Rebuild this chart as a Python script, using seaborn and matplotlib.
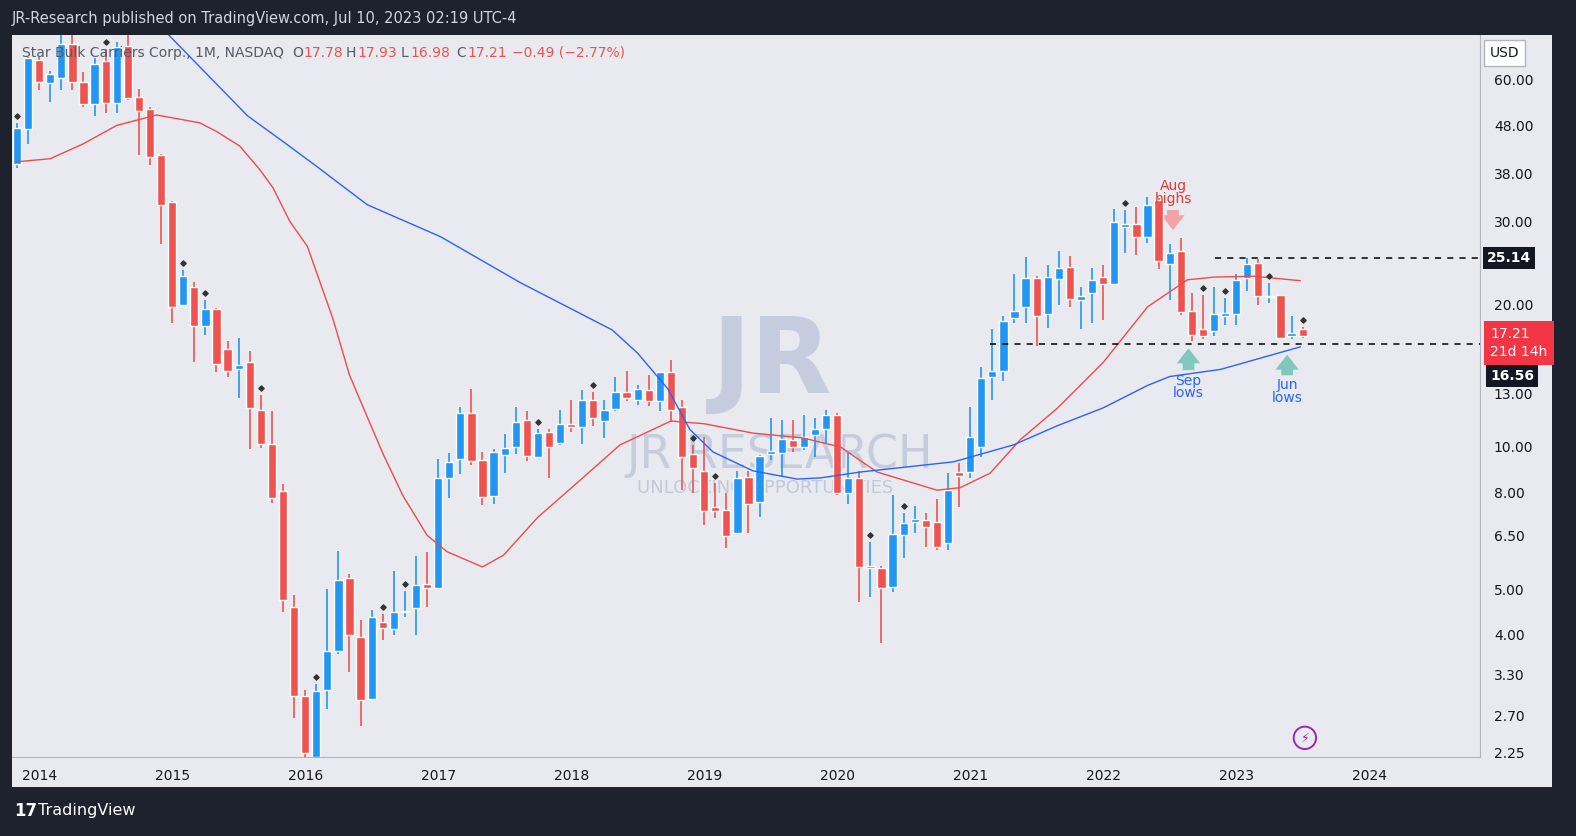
import numpy as np
import pandas as pd
import seaborn as sns
import matplotlib.pyplot as plt
from matplotlib.ticker import NullLocator, FixedLocator
import matplotlib.transforms as mtransforms

# monthly candles Nov 2013 .. Jul 2023 (split adjusted)
opens = [39.8, 47.2, 65.9, 59.0, 60.6, 71.4, 59.3, 53.2, 65.6, 53.5, 70.6, 55.0, 51.9, 41.6, 33.1,
         20.0, 21.8, 18.0, 19.6, 16.1, 14.6, 15.1, 12.0, 10.15, 8.07, 4.58, 2.97, 2.2, 3.06, 3.69,
         5.28, 3.95, 2.93, 4.26, 4.12, 4.47, 4.56, 5.12, 5.03, 8.6, 9.43, 11.8, 9.37, 7.87, 9.63,
         10.0, 11.4, 9.54, 10.76, 10.2, 11.2, 11.0, 12.6, 11.37, 12.05, 13.07, 12.6, 13.2, 12.5, 14.4,
         12.15, 9.66, 8.9, 7.46, 7.35, 6.58, 8.65, 7.65, 9.66, 9.73, 10.35, 10.0, 10.6, 10.9, 11.7,
         8.0, 8.6, 5.55, 5.55, 5.05, 6.52, 6.95, 7.0, 6.95, 6.25, 8.86, 8.86, 10.0, 14.1, 14.5,
         18.8, 19.8, 22.8, 19.1, 22.7, 24.1, 20.5, 21.2, 22.9, 22.1, 29.2, 29.7, 27.8, 33.3, 24.4,
         26.0, 19.4, 17.8, 17.6, 18.9, 19.1, 22.8, 24.5, 20.8, 21.0, 17.2, 17.78]
highs = [48.6, 67.0, 67.0, 62.5, 76.0, 75.0, 62.3, 66.8, 69.8, 72.2, 76.0, 57.2, 52.4, 41.8, 33.2,
         23.7, 22.4, 20.5, 19.7, 16.8, 17.0, 16.0, 12.9, 11.9, 8.35, 4.85, 3.05, 3.15, 5.01, 6.02,
         5.38, 4.3, 4.52, 4.43, 5.46, 4.95, 5.88, 6.0, 9.45, 9.7, 12.15, 13.3, 9.77, 9.9, 10.65,
         12.15, 11.9, 10.9, 10.9, 12.0, 12.6, 13.2, 13.1, 12.6, 14.1, 14.5, 13.5, 14.2, 14.4, 15.3,
         12.6, 10.1, 10.5, 8.4, 8.0, 8.9, 8.9, 9.6, 11.5, 11.4, 11.4, 11.7, 11.5, 12.0, 11.8,
         9.72, 8.9, 6.3, 5.6, 7.9, 7.25, 7.5, 7.25, 7.76, 8.8, 9.25, 12.15, 14.8, 17.8, 18.9,
         23.2, 25.2, 23.0, 24.3, 26.0, 25.4, 21.8, 23.9, 24.3, 31.9, 31.8, 32.3, 33.8, 33.7, 26.9,
         27.7, 21.2, 21.0, 21.8, 20.65, 23.3, 25.1, 25.0, 22.3, 21.0, 18.95, 17.93]
lows = [39.0, 43.8, 57.0, 53.9, 57.0, 57.0, 52.6, 50.3, 51.0, 51.0, 54.3, 41.5, 39.5, 26.9, 18.3,
        19.9, 15.1, 17.3, 14.4, 14.1, 12.7, 9.9, 9.95, 7.6, 4.47, 2.67, 2.0, 2.0, 2.78, 3.64,
        3.33, 2.56, 2.91, 3.9, 4.0, 4.37, 4.0, 4.58, 5.0, 7.8, 8.77, 9.16, 7.54, 7.58, 8.8,
        9.66, 9.35, 9.49, 8.6, 10.1, 10.76, 10.15, 11.1, 10.45, 11.9, 12.5, 12.3, 12.2, 11.9, 11.3,
        8.1, 8.0, 6.84, 7.08, 6.1, 6.54, 6.57, 7.1, 9.4, 8.65, 9.77, 9.85, 9.5, 10.2, 7.9,
        7.57, 4.7, 4.82, 3.84, 4.93, 5.82, 6.57, 6.15, 6.05, 6.05, 7.47, 8.6, 9.5, 12.6, 13.8,
        18.3, 18.3, 16.4, 17.9, 20.0, 19.8, 17.8, 18.3, 18.6, 22.0, 25.7, 25.5, 27.0, 23.8, 20.5,
        19.0, 16.8, 16.9, 17.2, 18.1, 18.1, 21.4, 20.0, 20.2, 17.0, 16.9, 16.98]
closes = [47.4, 66.7, 59.2, 61.6, 71.4, 59.2, 53.2, 64.8, 53.5, 70.3, 54.8, 51.4, 41.2, 32.6, 19.8,
          23.0, 18.0, 19.6, 15.0, 14.5, 14.9, 12.1, 10.15, 7.8, 4.74, 2.97, 2.25, 3.04, 3.69, 5.23,
          4.0, 2.91, 4.37, 4.14, 4.47, 4.50, 5.1, 5.03, 8.6, 9.3, 11.8, 9.35, 7.85, 9.76, 9.95,
          11.3, 9.58, 10.7, 10.0, 11.2, 11.0, 12.6, 11.5, 12.0, 13.1, 12.7, 13.3, 12.5, 14.4, 12.0,
          9.5, 9.04, 7.3, 7.3, 6.48, 8.6, 7.57, 9.56, 9.8, 10.4, 10.0, 10.5, 10.9, 11.7, 8.0,
          8.6, 5.58, 5.6, 5.03, 6.54, 6.9, 7.05, 6.77, 6.15, 8.1, 8.68, 10.5, 14.0, 14.5, 18.5,
          19.4, 22.8, 18.9, 22.9, 23.9, 20.6, 20.9, 22.6, 22.1, 30.0, 29.6, 27.9, 32.6, 24.8, 25.8,
          19.3, 17.3, 17.2, 19.1, 19.2, 22.6, 24.4, 20.9, 20.9, 17.0, 17.4, 17.21]
dividend_bars = [0, 8, 15, 17, 22, 27, 33, 35, 47, 52, 61, 63, 77, 80, 100, 107, 109, 113, 116]

# moving averages (bar index, value)
red_ma_x = [0, 3, 6, 9, 12.6, 16.5, 18, 20.1, 21.9, 23.1, 24.6, 26.2, 28.5, 30, 31, 33, 34.8, 37,
            38.8, 42, 43.9, 47, 50.8, 54.4, 59, 62, 66.4, 70.9, 74.3, 77.6, 83, 85.1, 87.8, 90.5,
            93.9, 98, 102, 105.6, 108, 111.6, 115.8]
red_ma_y = [40.2, 40.8, 43.9, 48, 50.5, 48.6, 46.6, 43.4, 38.7, 35.4, 30.1, 26.6, 18.7, 14.2, 12.5,
            9.7, 7.9, 6.5, 6.0, 5.57, 5.9, 7.1, 8.5, 10.1, 11.35, 11.2, 10.7, 10.45, 10.0, 8.85,
            8.1, 8.2, 8.8, 10.35, 12.1, 15.1, 19.8, 22.6, 22.9, 23.0, 22.5]
blue_ma_x = [13.4, 20.8, 24.1, 27.1, 31.6, 38.2, 45.4, 53.7, 56, 58.7, 60.7, 62.8, 66.4, 70.4,
             72.5, 76.1, 84.5, 89.9, 93.9, 98, 102, 104, 108.6, 115.8]
blue_ma_y = [75.8, 50.3, 44.2, 39.2, 32.6, 27.9, 22.3, 17.7, 15.8, 13.3, 10.9, 9.76, 8.9, 8.55,
             8.6, 8.85, 9.3, 10.1, 11.1, 12.1, 13.5, 14.1, 14.6, 16.3]

price_ticks = [2.25, 2.70, 3.30, 4.00, 5.00, 6.50, 8.00, 10.00, 13.00, 20.00, 30.00, 38.00, 48.00,
               60.00]
year_labels = ["2014", "2015", "2016", "2017", "2018", "2019", "2020", "2021", "2022", "2023", "2024"]
resistance = 25.14
support = 16.56
last_close = 17.21

W, H = 1576, 836
BG = "#1e222d"
PANEL = "#e9eaef"
UP = "#2196f3"
DOWN = "#ef5350"

df = pd.DataFrame({"date": pd.date_range("2013-11-01", periods=len(closes), freq="MS"),
                   "open": opens, "high": highs, "low": lows, "close": closes})
df["x"] = np.arange(len(df))
df["up"] = df["close"] >= df["open"]

sns.set_style("white")
plt.rcParams["font.family"] = ["DejaVu Sans"]

fig = plt.figure(figsize=(W / 100, H / 100), dpi=100, facecolor=BG)


def px(x, y):
    return x / W, 1 - y / H


# light panel behind chart + price scale + time scale
bg = fig.add_axes([12 / W, (H - 787) / H, 1540 / W, 752 / H])
bg.set_facecolor(PANEL)
bg.set_xticks([])
bg.set_yticks([])
for s in bg.spines.values():
    s.set_visible(False)
bg.set_zorder(-1)

ax = fig.add_axes([12 / W, (H - 757) / H, 1468 / W, 722 / H])
ax.set_facecolor(PANEL)

# watermark
ax.text(0.518, 0.545, "JR", transform=ax.transAxes, fontsize=76, fontweight="bold",
        color="#a9b4cf", alpha=0.55, ha="center", va="center", zorder=2)
ax.text(0.523, 0.418, "JR RESEARCH", transform=ax.transAxes, fontsize=33,
        color="#a9b4cf", alpha=0.55, ha="center", va="center", zorder=2)
ax.text(0.513, 0.373, "UNLOCKING OPPORTUNITIES", transform=ax.transAxes, fontsize=13,
        color="#a9b4cf", alpha=0.6, ha="center", va="center", zorder=2)

colors = np.where(df["up"], UP, DOWN)
ax.vlines(df["x"], df["low"], df["high"], colors=colors, linewidth=1.2, zorder=3)
body_lo = np.minimum(df["open"], df["close"])
body_hi = np.maximum(df["open"], df["close"])
body_hi = np.maximum(body_hi, body_lo * 1.006)
ax.bar(df["x"], body_hi - body_lo, bottom=body_lo, width=0.74, color=colors, zorder=4)

sns.lineplot(x=red_ma_x, y=red_ma_y, ax=ax, color="#f04a4a", linewidth=1.0, zorder=5)
sns.lineplot(x=blue_ma_x, y=blue_ma_y, ax=ax, color="#2962ff", linewidth=1.0, zorder=5)

div = df.iloc[dividend_bars]
ax.scatter(div["x"], div["high"] * 1.035, marker="D", s=7, color="#333333", zorder=6)

ax.hlines(resistance, 108.1, 132, colors="black", linestyles=(0, (4, 4)), linewidth=1.1, zorder=6)
ax.hlines(support, 87.8, 132, colors="black", linestyles=(0, (4, 4)), linewidth=1.1, zorder=6)

ax.set_yscale("log")
ax.set_ylim(2.204, 74.6)
ax.set_xlim(-0.45, 132)
ax.yaxis.set_minor_locator(NullLocator())
ax.yaxis.set_major_locator(FixedLocator(price_ticks))
ax.set_yticklabels([f"{v:.2f}" for v in price_ticks])
ax.yaxis.tick_right()
ax.tick_params(axis="y", length=0, pad=10, labelsize=10, labelcolor="#131722")
ax.set_xticks([2 + 12 * i for i in range(len(year_labels))])
ax.set_xticklabels(year_labels)
ax.tick_params(axis="x", length=0, pad=9, labelsize=10, labelcolor="#131722")
for s in ["top", "left"]:
    ax.spines[s].set_visible(False)
ax.spines["right"].set_color("#b2b5be")
ax.spines["bottom"].set_color("#b2b5be")
ax.set_xlabel("")
ax.set_ylabel("")

# annotations
arrow = "simple,head_width=1.4,head_length=0.9,tail_width=0.7"
ax.text(104.3, 34.6, "Aug\nhighs", color="#e53935", fontsize=10, ha="center", va="center",
        linespacing=0.85, zorder=7)
ax.annotate("", xy=(104.3, 28.4), xytext=(104.3, 32.2),
            arrowprops=dict(arrowstyle=arrow, fc="#f2a3a6", ec="none", mutation_scale=12))
ax.text(105.7, 13.4, "Sep\nlows", color="#2962ff", fontsize=10, ha="center", va="center",
        linespacing=0.85, zorder=7)
ax.annotate("", xy=(105.7, 16.4), xytext=(105.7, 14.35),
            arrowprops=dict(arrowstyle=arrow, fc="#80c7bd", ec="none", mutation_scale=12))
ax.text(114.6, 13.1, "Jun\nlows", color="#2962ff", fontsize=10, ha="center", va="center",
        linespacing=0.85, zorder=7)
ax.annotate("", xy=(114.6, 15.9), xytext=(114.6, 14.0),
            arrowprops=dict(arrowstyle=arrow, fc="#80c7bd", ec="none", mutation_scale=12))

# price scale markers
bt = mtransforms.blended_transform_factory(ax.transAxes, ax.transData)
ax.text(1.0048, resistance, f"{resistance:.2f}", transform=bt, fontsize=10, fontweight="bold",
        color="white", va="center", ha="left", clip_on=False, zorder=8,
        bbox=dict(boxstyle="square,pad=0.3", fc="#131722", ec="none"))
fig.text(*px(1490, 343), f"{last_close:.2f}\n21d 14h", fontsize=10, color="white",
         va="center", ha="left", zorder=8, linespacing=1.3,
         bbox=dict(boxstyle="square,pad=0.45", fc="#f23645", ec="none"))
fig.text(*px(1490, 376), f"{support:.2f}", fontsize=10, fontweight="bold", color="white",
         va="center", ha="left", zorder=8,
         bbox=dict(boxstyle="square,pad=0.3", fc="#131722", ec="none"))
fig.text(*px(1490, 53), "USD", fontsize=10, color="#131722", va="center", ha="left",
         bbox=dict(boxstyle="square,pad=0.4", fc="white", ec="#b2b5be"))

# legend line
fig.text(*px(22, 53), "Star Bulk Carriers Corp., 1M, NASDAQ", fontsize=10, color="#555a66",
         va="center")
for xp, s, c in [(292, "O", "#555a66"), (303, "17.78", DOWN), (346, "H", "#555a66"),
                 (357, "17.93", DOWN), (401, "L", "#555a66"), (410, "16.98", DOWN),
                 (456, "C", "#555a66"), (467, "17.21", DOWN), (512, "\u22120.49 (\u22122.77%)", DOWN)]:
    fig.text(*px(xp, 53), s, fontsize=10, color=c, va="center")

# lightning icon
ax.scatter([116.2], [2.42], s=260, facecolors="none", edgecolors="#9c27b0", linewidths=1.4, zorder=7)
ax.text(116.2, 2.42, "\u26a1", color="#9c27b0", fontsize=9, ha="center", va="center", zorder=7)

# header and footer
fig.text(*px(12, 18), "JR-Research published on TradingView.com, Jul 10, 2023 02:19 UTC-4",
         fontsize=10.5, color="#d1d4dc", va="center")
fig.text(*px(14, 811), "17", fontsize=12, fontweight="bold", color="white", va="center")
fig.text(*px(38, 811), "TradingView", fontsize=11.5, color="white", va="center")

fig.savefig("out.png", dpi=100, facecolor=BG)
